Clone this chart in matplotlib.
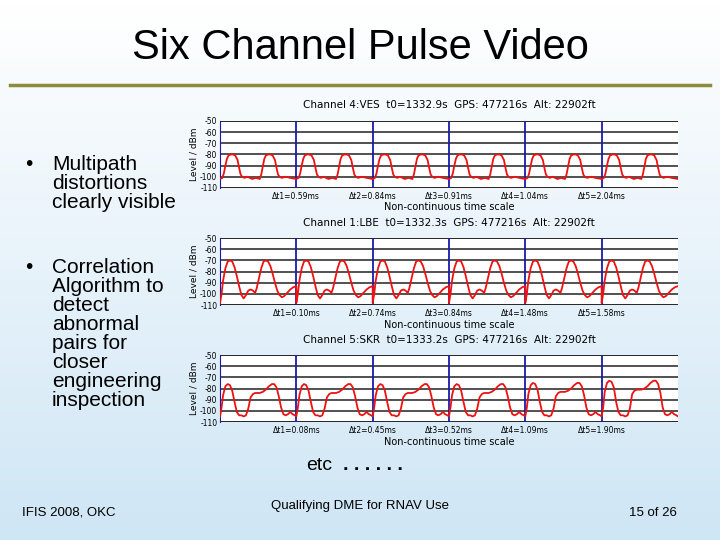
import numpy as np
import matplotlib
matplotlib.use('Agg')
from matplotlib import pyplot as plt

plt.rcParams['axes.unicode_minus'] = False

# one-segment pulse profiles (x is fraction of a segment)
seg_x_ves = [0, 0.03, 0.05, 0.07, 0.09, 0.11, 0.14, 0.17, 0.20, 0.23, 0.25, 0.27, 0.29, 0.32, 0.36, 0.42, 0.47, 0.52,
             0.54, 0.56, 0.58, 0.60, 0.63, 0.66, 0.69, 0.72, 0.74, 0.76, 0.78, 0.81, 0.86, 0.92, 1.0]
seg_y_ves = [-102, -101, -97, -90, -84, -81, -80, -80, -81, -85, -92, -98, -100, -101, -100, -102, -101, -102,
             -98, -91, -84, -81, -80, -80, -81, -85, -92, -98, -100, -101, -100, -101, -102]
seg_x_lbe = [0, 0.02, 0.04, 0.07, 0.10, 0.13, 0.16, 0.19, 0.22, 0.25, 0.28, 0.31, 0.34, 0.37, 0.40, 0.43, 0.46,
             0.48, 0.51, 0.54, 0.57, 0.60, 0.63, 0.66, 0.69, 0.72, 0.75, 0.78, 0.81, 0.84, 0.88, 0.92, 0.96, 1.0]
seg_y_lbe = [-108, -100, -88, -77, -71, -70, -71, -76, -84, -93, -101, -104, -101, -97, -96, -97, -99,
             -95, -86, -77, -71, -70, -71, -75, -82, -90, -97, -101, -103, -102, -99, -96, -94, -93]
seg_x_skr = [0, 0.02, 0.04, 0.07, 0.10, 0.13, 0.16, 0.19, 0.22, 0.25, 0.28, 0.31, 0.34, 0.37, 0.40, 0.43, 0.46,
             0.52, 0.56, 0.60, 0.64, 0.68, 0.71, 0.74, 0.77, 0.80, 0.83, 0.86, 0.89, 0.92, 0.95, 0.98, 1.0]
seg_y_skr = [-105, -97, -86, -78, -76, -77, -82, -92, -101, -104, -104, -105, -104, -98, -88, -85, -84,
             -84, -83, -81, -78, -76, -76, -79, -87, -97, -103, -104, -103, -101, -103, -104, -105]
# peak offset per segment (dB) for channel 5, rising toward the end
skr_offsets = [0, 0, 0, 0, 1, 3]

titles = ['Channel 4:VES  t0=1332.9s  GPS: 477216s  Alt: 22902ft',
          'Channel 1:LBE  t0=1332.3s  GPS: 477216s  Alt: 22902ft',
          'Channel 5:SKR  t0=1333.2s  GPS: 477216s  Alt: 22902ft']
dt_labels = [['0.59', '0.84', '0.91', '1.04', '2.04'],
             ['0.10', '0.74', '0.84', '1.48', '1.58'],
             ['0.08', '0.45', '0.52', '1.09', '1.90']]
yticks = [-50, -60, -70, -80, -90, -100, -110]

fig = plt.figure(figsize=(7.2, 5.4), dpi=100)
# slide background: white top, pale blue toward bottom
bg = fig.add_axes([0, 0, 1, 1], zorder=-10)
grad = np.linspace(1, 0, 100).reshape(-1, 1)
bg.imshow(grad, aspect='auto', extent=[0, 1, 0, 1],
          cmap=matplotlib.colors.LinearSegmentedColormap.from_list('bg', ['#cfe6f5', '#ffffff']))
bg.axis('off')

fig.text(0.5, 0.912, 'Six Channel Pulse Video', ha='center', va='center', fontsize=30, family='Liberation Sans')
fig.add_artist(plt.Line2D([0.014, 0.986], [0.843, 0.843], color='#8c8c3c', lw=2.5))

bullet = dict(fontsize=15, family='Liberation Sans', va='top', linespacing=1.0)
fig.text(0.035, 0.713, '•', **bullet)
fig.text(0.072, 0.713, 'Multipath\ndistortions\nclearly visible', **bullet)
fig.text(0.035, 0.523, '•', **bullet)
fig.text(0.072, 0.523, 'Correlation\nAlgorithm to\ndetect\nabnormal\npairs for\ncloser\nengineering\ninspection', **bullet)

fig.text(0.425, 0.13, 'etc', ha='left', fontsize=14, family='Liberation Sans')
fig.text(0.477, 0.13, '. . . . . .', ha='left', fontsize=14, family='Liberation Sans', weight='bold')
fig.text(0.5, 0.058, 'Qualifying DME for RNAV Use', ha='center', fontsize=9.5, family='Liberation Sans')
fig.text(0.03, 0.045, 'IFIS 2008, OKC', ha='left', fontsize=9.5, family='Liberation Sans')
fig.text(0.94, 0.045, '15 of 26', ha='right', fontsize=9.5, family='Liberation Sans')

profiles = [(seg_x_ves, seg_y_ves, [0]*6), (seg_x_lbe, seg_y_lbe, [0]*6), (seg_x_skr, seg_y_skr, skr_offsets)]
bottoms = [0.652, 0.435, 0.2185]
for k, (sx, sy, offs) in enumerate(profiles):
    ax = fig.add_axes([0.3056, bottoms[k], 0.636, 0.124])
    xs, ys = [], []
    base = np.array(sy)
    for s in range(6):
        lvl = np.where(base > -90, base + offs[s], base)
        xs.extend(s + np.array(sx))
        ys.extend(lvl)
    ax.plot(xs, ys, color='#ee1111', lw=1.3, zorder=3)
    for yv in yticks:
        ax.axhline(yv, color='black' if yv in (-50, -110) else '#333333', lw=1.2, zorder=1)
    for s in range(1, 6):
        ax.axvline(s, color='#1a1aaa', lw=1.3, zorder=2)
    ax.set_xlim(0, 6)
    ax.set_ylim(-110, -50)
    ax.set_yticks(yticks)
    ax.tick_params(axis='y', labelsize=5.5, length=0, pad=2)
    ax.set_xticks(range(1, 6))
    ax.set_xticklabels(['\u0394t%d=%sms' % (i + 1, v) for i, v in enumerate(dt_labels[k])], fontsize=5.5)
    ax.tick_params(axis='x', length=0, pad=3)
    for sp in ['top', 'right']:
        ax.spines[sp].set_visible(False)
    ax.spines['left'].set_color('#1a1aaa')
    ax.spines['bottom'].set_visible(False)
    ax.set_facecolor('white')
    ax.set_title(titles[k], fontsize=7.5, pad=9)
    ax.set_ylabel('Level / dBm', fontsize=6.5, labelpad=1)
    ax.set_xlabel('Non-continuous time scale', fontsize=7, labelpad=1)

fig.savefig('out.png', dpi=100)
